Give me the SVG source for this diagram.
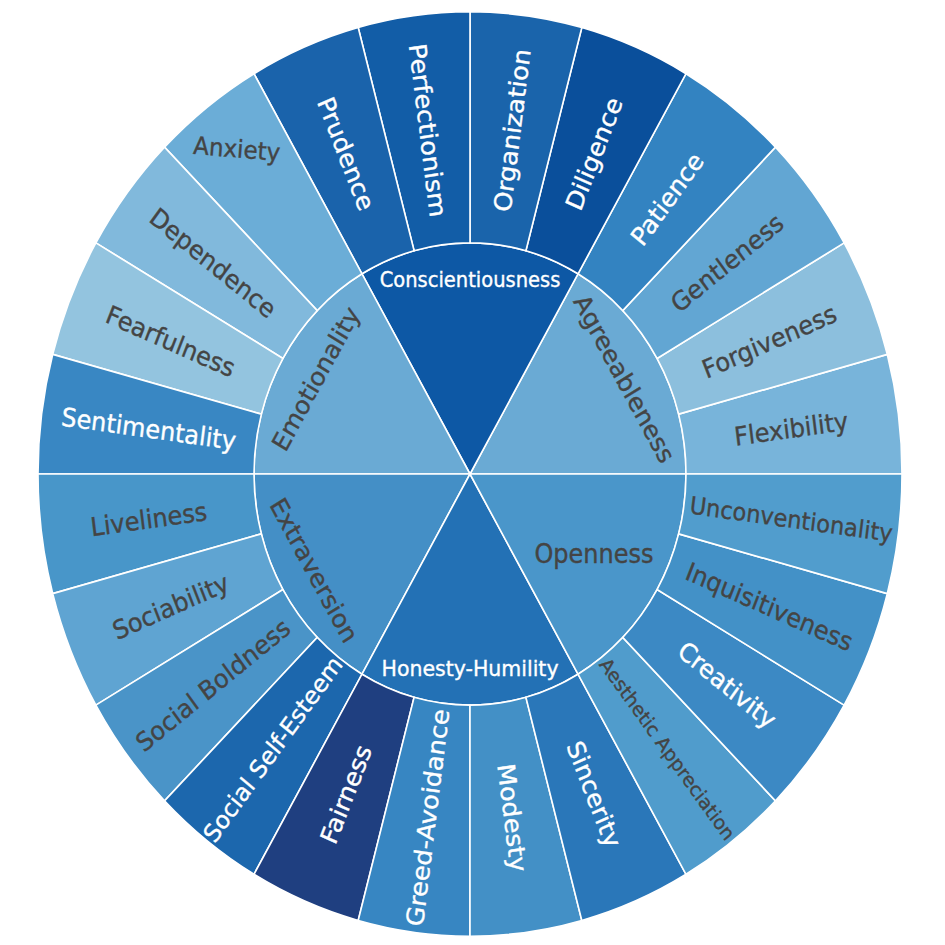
<svg xmlns="http://www.w3.org/2000/svg" xmlns:xlink="http://www.w3.org/1999/xlink" width="945" height="945" viewBox="0 0 945 945">
<style>
.sg{stroke:#fff;stroke-width:1.6;stroke-linejoin:round}
text{font-family:"DejaVu Sans",Verdana,sans-serif;text-anchor:middle;font-size:24px}
.w{fill:#fff;stroke:#fff;stroke-width:.35}
.d{fill:#444;stroke:#444;stroke-width:.35}
</style>
<defs>
<path id="wedge" d="M0,0 L216,0 A216,216 0 0 0 108,-187.06 Z"/>
<path id="seg" d="M216,0 L432,0 A432,432 0 0 0 417.28,-111.81 L208.64,-55.91 A216,216 0 0 1 216,0 Z"/>
</defs>
<rect width="945" height="945" fill="#fff"/>
<g transform="translate(470,474) scale(1,1.07)">
<g id="inner">
<g id="agreeableness"><use xlink:href="#wedge" class="sg" fill="#6aaad4"/><text class="d" transform="translate(154.2,-89) rotate(60)" dy=".35em">Agreeableness</text></g>
<g id="conscientiousness"><use xlink:href="#wedge" class="sg" fill="#0d58a5" transform="rotate(-60)"/><text class="w" transform="translate(0,-182)" dy=".35em" style="font-size:19.5px">Conscientiousness</text></g>
<g id="emotionality"><use xlink:href="#wedge" class="sg" fill="#6aaad4" transform="rotate(-120)"/><text class="d" transform="translate(-154.2,-89) rotate(-60)" dy=".35em">Emotionality</text></g>
<g id="extraversion"><use xlink:href="#wedge" class="sg" fill="#448fc6" transform="rotate(-180)"/><text class="d" transform="translate(-155.9,90) rotate(60)" dy=".35em">Extraversion</text></g>
<g id="honesty-humility"><use xlink:href="#wedge" class="sg" fill="#2371b5" transform="rotate(-240)"/><text class="w" transform="translate(0,182)" dy=".35em" style="font-size:20.5px">Honesty-Humility</text></g>
<g id="openness"><use xlink:href="#wedge" class="sg" fill="#4a96ca" transform="rotate(-300)"/><text class="d" transform="translate(124,75)" dy=".35em">Openness</text></g>
</g>
<g id="outer">
<g id="flexibility"><use xlink:href="#seg" class="sg" fill="#78b4da"/><text class="d" transform="translate(321.23,-42.29) rotate(-7.5)" dy=".35em">Flexibility</text></g>
<g id="forgiveness"><use xlink:href="#seg" class="sg" fill="#8cbfdd" transform="rotate(-15)"/><text class="d" transform="translate(299.34,-123.99) rotate(-22.5)" dy=".35em">Forgiveness</text></g>
<g id="gentleness"><use xlink:href="#seg" class="sg" fill="#62a6d3" transform="rotate(-30)"/><text class="d" transform="translate(257.05,-197.24) rotate(-37.5)" dy=".35em">Gentleness</text></g>
<g id="patience"><use xlink:href="#seg" class="sg" fill="#3383c1" transform="rotate(-45)"/><text class="w" transform="translate(197.24,-257.05) rotate(-52.5)" dy=".35em">Patience</text></g>
<g id="diligence"><use xlink:href="#seg" class="sg" fill="#0a4f9b" transform="rotate(-60)"/><text class="w" transform="translate(123.99,-299.34) rotate(-67.5)" dy=".35em">Diligence</text></g>
<g id="organization"><use xlink:href="#seg" class="sg" fill="#1a64ab" transform="rotate(-75)"/><text class="w" transform="translate(42.29,-321.23) rotate(-82.5)" dy=".35em">Organization</text></g>
<g id="perfectionism"><use xlink:href="#seg" class="sg" fill="#125da7" transform="rotate(-90)"/><text class="w" transform="translate(-42.29,-321.23) rotate(82.5)" dy=".35em">Perfectionism</text></g>
<g id="prudence"><use xlink:href="#seg" class="sg" fill="#1a63ab" transform="rotate(-105)"/><text class="w" transform="translate(-123.99,-299.34) rotate(67.5)" dy=".35em">Prudence</text></g>
<g id="anxiety"><use xlink:href="#seg" class="sg" fill="#6badd7" transform="rotate(-120)"/><text class="d" transform="translate(-233.16,-303.85) rotate(4.5)" dy=".35em" style="font-size:23px">Anxiety</text></g>
<g id="dependence"><use xlink:href="#seg" class="sg" fill="#81b9dc" transform="rotate(-135)"/><text class="d" transform="translate(-257.05,-197.24) rotate(37.5)" dy=".35em">Dependence</text></g>
<g id="fearfulness"><use xlink:href="#seg" class="sg" fill="#93c4df" transform="rotate(-150)"/><text class="d" transform="translate(-299.34,-123.99) rotate(22.5)" dy=".35em">Fearfulness</text></g>
<g id="sentimentality"><use xlink:href="#seg" class="sg" fill="#3987c3" transform="rotate(-165)"/><text class="w" transform="translate(-321.23,-42.29) rotate(7.5)" dy=".35em">Sentimentality</text></g>
<g id="liveliness"><use xlink:href="#seg" class="sg" fill="#4896c9" transform="rotate(-180)"/><text class="d" transform="translate(-321.23,42.29) rotate(-7.5)" dy=".35em">Liveliness</text></g>
<g id="sociability"><use xlink:href="#seg" class="sg" fill="#5fa4d2" transform="rotate(-195)"/><text class="d" transform="translate(-299.34,123.99) rotate(-22.5)" dy=".35em">Sociability</text></g>
<g id="social-boldness"><use xlink:href="#seg" class="sg" fill="#4a94c8" transform="rotate(-210)"/><text class="d" transform="translate(-257.05,197.24) rotate(-37.5)" dy=".35em">Social Boldness</text></g>
<g id="social-self-esteem"><use xlink:href="#seg" class="sg" fill="#1c67ad" transform="rotate(-225)"/><text class="w" transform="translate(-197.24,257.05) rotate(-52.5)" dy=".35em" style="font-size:23px">Social Self-Esteem</text></g>
<g id="fairness"><use xlink:href="#seg" class="sg" fill="#1f3f80" transform="rotate(-240)"/><text class="w" transform="translate(-123.99,299.34) rotate(-67.5)" dy=".35em">Fairness</text></g>
<g id="greed-avoidance"><use xlink:href="#seg" class="sg" fill="#3786c2" transform="rotate(-255)"/><text class="w" transform="translate(-42.29,321.23) rotate(-82.5)" dy=".35em">Greed-Avoidance</text></g>
<g id="modesty"><use xlink:href="#seg" class="sg" fill="#4390c6" transform="rotate(-270)"/><text class="w" transform="translate(42.29,321.23) rotate(82.5)" dy=".35em">Modesty</text></g>
<g id="sincerity"><use xlink:href="#seg" class="sg" fill="#2a77b9" transform="rotate(-285)"/><text class="w" transform="translate(123.99,299.34) rotate(67.5)" dy=".35em">Sincerity</text></g>
<g id="aesthetic-appreciation"><use xlink:href="#seg" class="sg" fill="#509ccc" transform="rotate(-300)"/><text class="d" transform="translate(197.24,257.05) rotate(52.5)" dy=".35em" style="font-size:18.5px">Aesthetic Appreciation</text></g>
<g id="creativity"><use xlink:href="#seg" class="sg" fill="#3c89c4" transform="rotate(-315)"/><text class="w" transform="translate(257.05,197.24) rotate(37.5)" dy=".35em">Creativity</text></g>
<g id="inquisitiveness"><use xlink:href="#seg" class="sg" fill="#4391c7" transform="rotate(-330)"/><text class="d" transform="translate(299.34,123.99) rotate(22.5)" dy=".35em">Inquisitiveness</text></g>
<g id="unconventionality"><use xlink:href="#seg" class="sg" fill="#519dcd" transform="rotate(-345)"/><text class="d" transform="translate(321.23,42.29) rotate(7.5)" dy=".35em" style="font-size:22.5px">Unconventionality</text></g>
</g>
</g>
</svg>
